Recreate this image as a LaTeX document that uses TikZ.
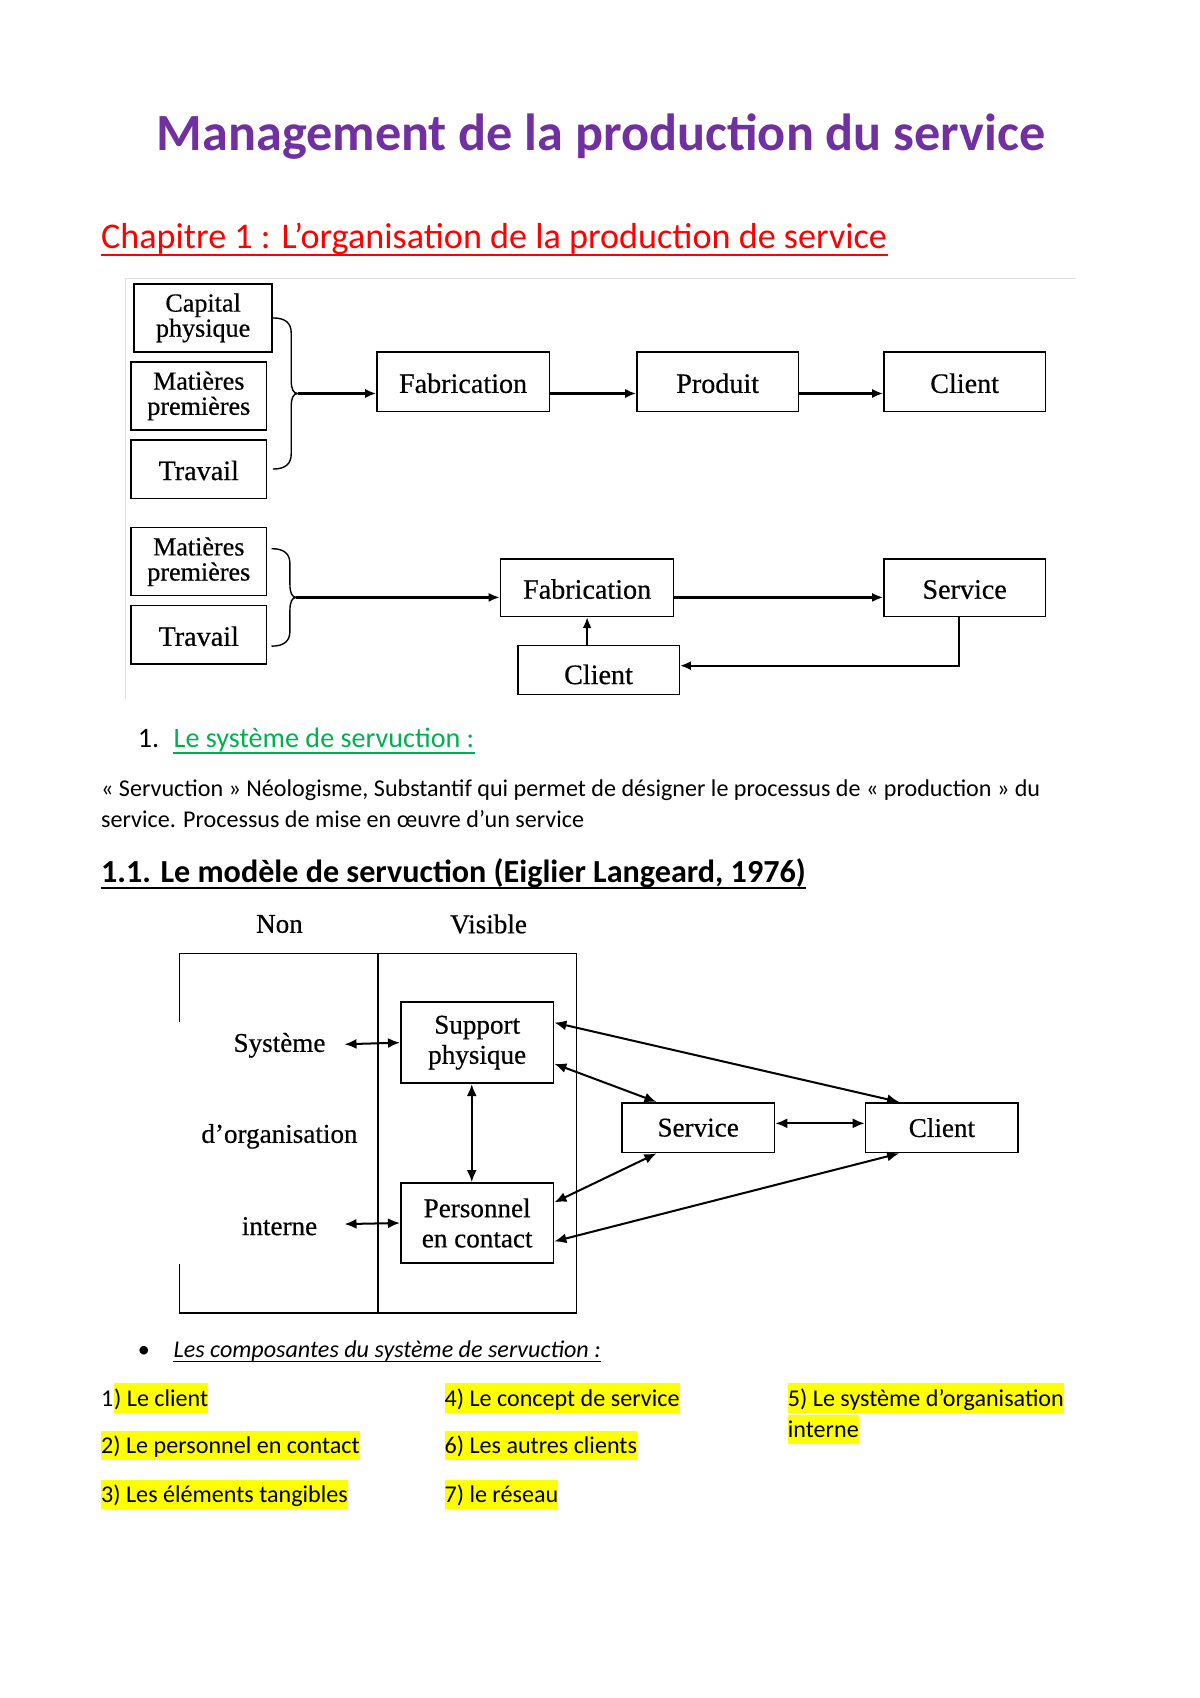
\documentclass[tikz,border=0pt]{standalone}
\usepackage{fontspec}
\setmainfont{Carlito}
\newfontfamily\tnr[FakeBold=0.5]{Liberation Serif}
\usetikzlibrary{calc}
\usetikzlibrary{arrows.meta}
\definecolor{titre}{HTML}{7030A0}
\definecolor{vert}{HTML}{00B050}
\definecolor{surligne}{HTML}{FFFF00}

% accolade entre deux points (haut, bas), pointe a droite
\newcommand\accolade[2]{%
  \draw[accol] (#1) .. controls +(12,0) and +(0,-9) .. ++(17,14)
    -- ($(#1)!0.5!(#2)+(17,-12)$) .. controls +(0,8) and +(-4,0) .. ($(#1)!0.5!(#2)+(23,0)$)
    .. controls +(-4,0) and +(0,-8) .. ($(#1)!0.5!(#2)+(17,12)$)
    -- ($(#2)+(17,-14)$) .. controls +(0,9) and +(12,0) .. (#2);}

\begin{document}
\begin{tikzpicture}[x=0.018958cm, y=-0.018958cm,
    boite/.style={rectangle, draw, line width=0.7pt, align=center, inner sep=0pt, font=\tnr\fontsize{14}{12}\selectfont},
    deux/.style={font=\tnr\fontsize{13}{12.5}\selectfont},
    boite3/.style={boite, line width=0.8pt, font=\tnr\fontsize{13.5}{15}\selectfont},
    bas/.style={text height=11pt, text depth=0pt},
    taille/.style 2 args={minimum width=#1*0.018958cm, minimum height=#2*0.018958cm},
    fleche/.style={line width=1.1pt, -{Latex[length=5.5pt,width=4.5pt]}},
    fleches/.style={line width=1pt, {Latex[length=6pt,width=5pt]}-{Latex[length=6pt,width=5pt]}},
    accol/.style={line width=0.7pt},
    texte/.style={anchor=base west, inner sep=0pt, font=\fontsize{12}{14.5}\selectfont},
    surl/.style={texte, fill=surligne, text height=11.4pt, text depth=3.3pt},
    etiq/.style={inner sep=0pt, font=\tnr\fontsize{13.5}{15}\selectfont}
    ]
  \useasboundingbox (0,0) rectangle (1107.7,1567.5);

  % titres
  \node[anchor=base, inner sep=0pt, text=titre, font=\bfseries\fontsize{26}{31}\selectfont] (titre) at (555,139) {Management de la production du service};
  \node[texte, text=red, font=\fontsize{18}{22}\selectfont] (chap) at (93,229) {Chapitre 1 : L’organisation de la production de service};
  \draw[red, line width=1pt] ($(chap.base west)+(0,6)$) -- ($(chap.base east)+(0,6)$);

  % cadre de l'image
  \draw[black!12, line width=0.8pt] (993,257) -- (116,257) -- (116,645);

  % schema 1 : production d'un bien
  \node[boite, deux, line width=0.9pt, taille={127}{63}] (cap) at (187.5,293.5) {Capital\\physique};
  \node[boite, deux, taille={125}{63}] (mp1) at (183.5,365.5) {Matières\\premières};
  \node[boite, bas, taille={125}{54}] (tr1) at (183.5,433) {Travail};
  \node[boite, bas, taille={159}{55}] (fab1) at (427.5,352.5) {Fabrication};
  \node[boite, bas, taille={149}{55}] (prod) at (662.5,352.5) {Produit};
  \node[boite, bas, taille={149}{55}] (cli1) at (890.5,352.5) {Client};
  \accolade{cap.east}{cap.east |- tr1.east}
  \coordinate (pt1) at ($(cap.east)!0.5!(cap.east |- tr1.east)+(23,0)$);
  \draw[fleche] (pt1) -- (fab1.west |- pt1);
  \draw[fleche] (fab1.east |- pt1) -- (prod.west |- pt1);
  \draw[fleche] (prod.east |- pt1) -- (cli1.west |- pt1);

  % schema 2 : production d'un service
  \node[boite, deux, taille={125}{63}] (mp2) at (183.5,518.5) {Matières\\premières};
  \node[boite, bas, taille={125}{54}] (tr2) at (183.5,586) {Travail};
  \node[boite, bas, taille={160}{53}] (fab2) at (542,542.5) {Fabrication};
  \node[boite, bas, taille={149}{53}] (serv2) at (890.5,542.5) {Service};
  \node[boite, text height=14pt, text depth=0pt, taille={149}{45}] (cli2) at (552.5,618.5) {Client};
  \coordinate (h2) at ($(mp2.east)+(4,-12)$);
  \coordinate (b2) at ($(mp2.east)+(4,78)$);
  \accolade{h2}{b2}
  \coordinate (pt2) at ($(h2)!0.5!(b2)+(23,0)$);
  \draw[fleche] (pt2) -- (fab2.west |- pt2);
  \draw[fleche] (fab2.east |- pt2) -- (serv2.west |- pt2);
  \draw[fleche] ($(serv2.south)+(-5,0)$) |- ($(cli2.east)+(0,-4)$);
  \draw[fleche] (cli2.north -| fab2.south) -- (fab2.south);

  % section 1
  \node[texte, font=\fontsize{14}{17}\selectfont] (num1) at (127,690) {1.};
  \node[texte, text=vert, font=\fontsize{14}{17}\selectfont] (sect1) at (160,690) {Le système de servuction :};
  \draw[vert, line width=0.8pt] ($(sect1.base west)+(0,5)$) -- ($(sect1.base east)+(0,5)$);
  \node[texte] (par1) at (93,735) {« Servuction » Néologisme, Substantif qui permet de désigner le processus de « production » du};
  \node[texte] (par2) at (93,764) {service. Processus de mise en œuvre d’un service};
  \node[texte, font=\bfseries\fontsize{16}{19}\selectfont] (sect11) at (93,815) {1.1. Le modèle de servuction (Eiglier Langeard, 1976)};
  \draw[line width=1pt] ($(sect11.base west)+(0,5)$) -- ($(sect11.base east)+(0,5)$);

  % schema 3 : modele de servuction
  \node[etiq] (non) at (258,853) {Non};
  \node[etiq] (vis) at (451,853) {Visible};
  \draw[line width=0.6pt] (166,943) -- (166,880) -- (532,880) -- (532,1212) -- (166,1212) -- (166,1167);
  \draw[line width=0.6pt] (349,880) -- (349,1212);
  \node[etiq] (sys) at (258,965) {Système};
  \node[etiq] (org) at (258,1049) {d’organisation};
  \node[etiq] (int) at (258,1132) {interne};
  \node[boite3, taille={141}{75}] (sup) at (440.5,962.5) {Support\\physique};
  \node[boite3, taille={141}{74}] (pers) at (440.5,1129) {Personnel\\en contact};
  \node[boite3, taille={141}{46}] (serv) at (644.5,1041) {Service};
  \node[boite3, taille={141}{46}] (cli) at (869.5,1041) {Client};
  \coordinate (sysd) at (318,964);
  \coordinate (intd) at (318,1130);
  \draw[fleches] (sysd) -- (sup.west);
  \draw[fleches] (intd) -- (pers.west);
  \draw[fleches] ($(sup.south)+(-5,0)$) -- ($(pers.north)+(-5,0)$);
  \draw[fleches] ($(serv.east)+(0,-4)$) -- ($(cli.west)+(0,-4)$);
  \draw[fleches] ($(sup.east)+(0,-18.5)$) -- ($(cli.north)+(-39.5,0)$);
  \draw[fleches] ($(sup.east)+(0,19.5)$) -- ($(serv.north)+(-38.5,0)$);
  \draw[fleches] ($(pers.east)+(0,-19)$) -- ($(serv.south)+(-38.5,0)$);
  \draw[fleches] ($(pers.east)+(0,17)$) -- ($(cli.south)+(-39.5,0)$);

  % composantes
  \node[texte] (puce) at (127,1253) {•};
  \node[texte, font=\itshape\fontsize{12}{14.5}\selectfont] (comp) at (160,1253) {Les composantes du système de servuction :};
  \draw[line width=0.6pt] ($(comp.base west)+(0,4)$) -- ($(comp.base east)+(0,4)$);
  \node[texte] (n1) at (93,1298) {1};
  \node[surl] (it1) at (n1.base east) {) Le client};
  \node[surl] (it2) at (93,1342) {2) Le personnel en contact};
  \node[surl] (it3) at (93,1387) {3) Les éléments tangibles};
  \node[surl] (it4) at (410,1298) {4) Le concept de service};
  \node[surl] (it6) at (410,1342) {6) Les autres clients};
  \node[surl] (it7) at (410,1387) {7) le réseau};
  \node[surl] (it5) at (727,1298) {5) Le système d’organisation};
  \node[surl] (it5b) at (727,1327) {interne};
\end{tikzpicture}
\end{document}
